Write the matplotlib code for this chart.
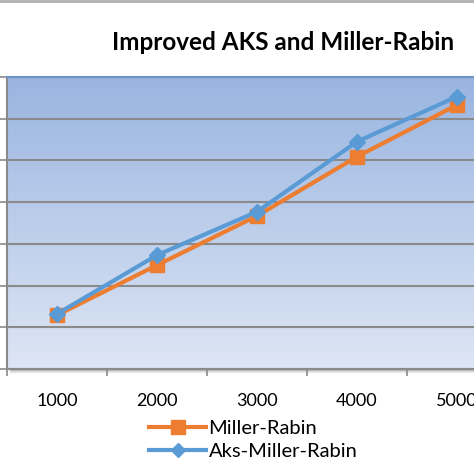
import matplotlib.pyplot as plt
import numpy as np
from matplotlib.patches import Rectangle
from matplotlib.lines import Line2D

sizes = ['1000', '2000', '3000', '4000', '5000']
miller_rabin = [1.29, 2.49, 3.67, 5.09, 6.33]
aks_miller_rabin = [1.32, 2.73, 3.77, 5.45, 6.53]

plt.rcParams['font.family'] = ['Lato', 'DejaVu Sans']

W = 474
fig = plt.figure(figsize=(4.74, 4.74), dpi=100)
fig.patch.set_facecolor('white')

# plot area is cut off on the right in the reference
ax_left, ax_bottom = 7 / W, 105 / W
ax_w, ax_h = 500 / W, 292 / W

# soft shadow below the plot area
for i, a in enumerate([0.12, 0.08, 0.05, 0.03]):
    fig.patches.append(Rectangle((ax_left + 3 / W, ax_bottom - (2 + i) / W), ax_w, ax_h,
                                 transform=fig.transFigure, facecolor='black', alpha=a,
                                 edgecolor='none', zorder=0))

ax = fig.add_axes([ax_left, ax_bottom, ax_w, ax_h], zorder=2)
x = np.arange(len(sizes))

# gradient background
grad = np.linspace(0, 1, 256).reshape(-1, 1)
top = np.array([0.60, 0.71, 0.88])
bot = np.array([0.87, 0.90, 0.96])
img = bot + (top - bot) * grad
ax.imshow(img[:, None, :].repeat(2, axis=1), extent=[-0.5, 4.5, 0, 7],
          origin='lower', aspect='auto', zorder=0)

ax.set_xlim(-0.5, 4.5)
ax.set_ylim(0, 7)
ax.set_yticks(range(8))
ax.yaxis.grid(True, color='#8a8a8a', linewidth=1.5, zorder=1)
ax.set_axisbelow(True)
ax.tick_params(axis='y', labelleft=False, length=5, width=1.2, color='#8a8a8a', direction='out')

ax.set_xticks(x)
ax.set_xticklabels(sizes, fontsize=13)
ax.set_xticks(np.arange(-0.5, 5, 1), minor=True)
ax.tick_params(axis='x', which='major', length=0, pad=17)
ax.tick_params(axis='x', which='minor', length=5, width=1.2, color='#8a8a8a', direction='out')

for s in ['left', 'bottom']:
    ax.spines[s].set_color('#8a8a8a')
    ax.spines[s].set_linewidth(1.5)
ax.spines['top'].set_color('#6f94cc')
ax.spines['top'].set_linewidth(1.5)
ax.spines['right'].set_visible(False)

ax.plot(x, miller_rabin, color='#ED7D31', linewidth=3, marker='s', markersize=10, zorder=3)
ax.plot(x, aks_miller_rabin, color='#5B9BD5', linewidth=3, marker='D', markersize=8, zorder=4)

fig.text(283 / W, 1 - 42 / W, 'Improved AKS and Miller-Rabin', ha='center', va='center',
         fontsize=17.5, fontweight='bold')

# thin gray line at very top
fig.lines.append(Line2D([0, 1], [1 - 1 / W, 1 - 1 / W], transform=fig.transFigure,
                        color='#b0b0b0', linewidth=2))

handles = [Line2D([], [], color='#ED7D31', linewidth=3, marker='s', markersize=10),
           Line2D([], [], color='#5B9BD5', linewidth=3, marker='D', markersize=7)]
fig.legend(handles, ['Miller-Rabin', 'Aks-Miller-Rabin'], loc='center left',
           bbox_to_anchor=(139 / W, 1 - 440 / W), frameon=False, fontsize=14.5,
           handlelength=2.85, handletextpad=0.1, labelspacing=0.3, borderpad=0)

fig.savefig('out.png', dpi=100)
